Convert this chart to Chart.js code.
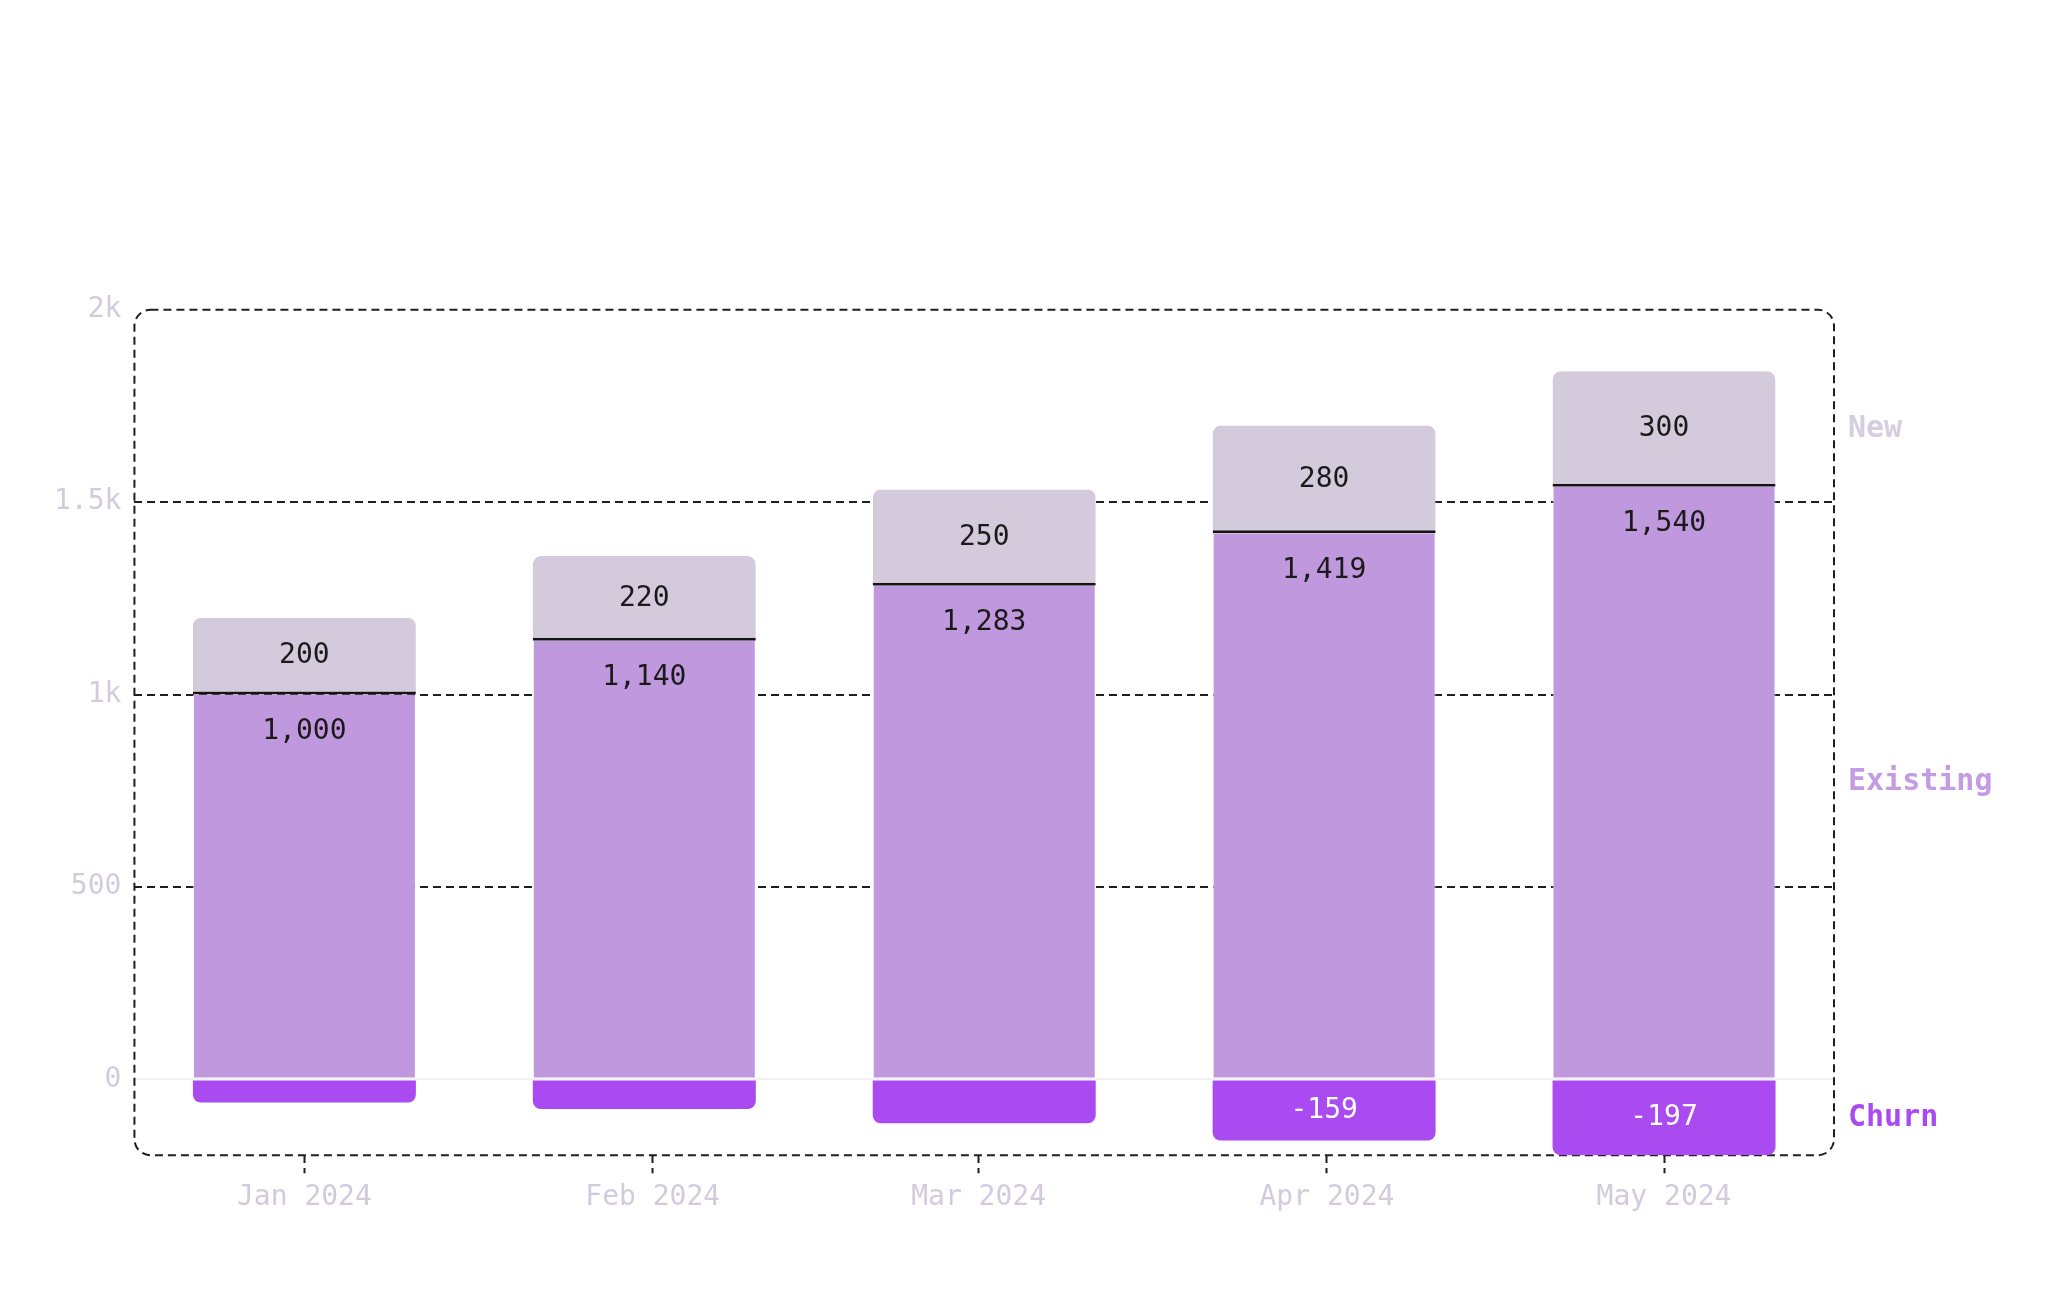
<!DOCTYPE html>
<html>
<head>
<meta charset="utf-8">
<title>Customer Growth</title>
<script src="https://cdn.jsdelivr.net/npm/chart.js@4.4.1/dist/chart.umd.min.js"></script>
<style>
  html, body { margin: 0; padding: 0; background: #ffffff; }
  #wrap { width: 2048px; height: 1302px; }
</style>
</head>
<body>
<div id="wrap"><canvas id="growthChart"></canvas></div>
<script>
// data
const months = ['Jan 2024', 'Feb 2024', 'Mar 2024', 'Apr 2024', 'May 2024'];
const monthStartDays = [0, 31, 60, 91, 121]; // day of year (from Jan 1) for each month tick
const existingCustomers = [1000, 1140, 1283, 1419, 1540];
const newCustomers = [200, 220, 250, 280, 300];
const churnedCustomers = [-60, -77, -114, -159, -197];
const yTicks = [0, 500, 1000, 1500, 2000];

const MONO = '"DejaVu Sans Mono", monospace';
const INK = '#1f1f1f';
const TICK_TEXT = '#d3cadc';
const yMax = yTicks[yTicks.length - 1];

// dashed rounded frame round the plot area
const frameBorder = {
    id: 'frameBorder',
    beforeDatasetsDraw(chart) {
        const { ctx, chartArea: a } = chart;
        ctx.save();
        ctx.strokeStyle = INK;
        ctx.lineWidth = 2;
        ctx.setLineDash([8, 5]);
        ctx.beginPath();
        ctx.roundRect(a.left, a.top, a.right - a.left, a.bottom - a.top, 16);
        ctx.stroke();
        ctx.restore();
    }
};

// numbers inside the bars + series names at the right end
const barLabels = {
    id: 'barLabels',
    afterDatasetsDraw(chart) {
        const ctx = chart.ctx;
        ctx.save();
        ctx.textBaseline = 'middle';
        chart.data.datasets.forEach((ds, i) => {
            const meta = chart.getDatasetMeta(i);
            ctx.font = '28px ' + MONO;
            ctx.textAlign = 'center';
            ctx.fillStyle = ds.valueColor;
            meta.data.forEach((bar, j) => {
                const h = Math.abs(bar.base - bar.y);
                if (h < 50) return;
                let y = (bar.y + bar.base) / 2;
                if (ds.labelAtTop) y = bar.y + 37;
                ctx.fillText(ds.data[j].toLocaleString('en-US'), bar.x, y);
            });

            const last = meta.data[meta.data.length - 1];
            ctx.font = 'bold 30px ' + MONO;
            ctx.textAlign = 'left';
            ctx.fillStyle = ds.seriesColor;
            ctx.fillText(ds.label, chart.chartArea.right + 14, (last.y + last.base) / 2);
        });
        ctx.restore();
    }
};

// half a bar slot of padding on each side, so first/last month ticks sit on the bar centres
const daySpan = monthStartDays[monthStartDays.length - 1] - monthStartDays[0];
const dayPad = daySpan / (monthStartDays.length - 1) / 2;

new Chart(document.getElementById('growthChart'), {
    type: 'bar',
    data: {
        labels: months,
        datasets: [
            {
                label: 'Existing',
                data: existingCustomers,
                backgroundColor: '#c098dd',
                borderColor: 'rgba(255, 255, 255, 0.7)',
                borderWidth: { top: 0, left: 1, right: 1, bottom: 1 },
                borderSkipped: false,
                valueColor: '#1a1a1a',
                seriesColor: '#c59be3',
                labelAtTop: true
            },
            {
                label: 'New',
                data: newCustomers,
                backgroundColor: '#d3cadc',
                borderColor: '#141414',
                borderWidth: { top: 0, left: 0, right: 0, bottom: 3 },
                borderSkipped: false,
                borderRadius: { topLeft: 8, topRight: 8 },
                valueColor: '#1a1a1a',
                seriesColor: '#d6cde0'
            },
            {
                label: 'Churn',
                data: churnedCustomers,
                backgroundColor: '#aa4bf2',
                borderWidth: 0,
                borderRadius: { bottomLeft: 8, bottomRight: 8 },
                valueColor: '#ffffff',
                seriesColor: '#aa4bf2'
            }
        ]
    },
    options: {
        responsive: true,
        maintainAspectRatio: false,
        devicePixelRatio: 1,
        animation: false,
        events: [],
        layout: {
            padding: { top: 40, left: 41, right: 214, bottom: 38 }
        },
        datasets: {
            bar: { barPercentage: 0.656, categoryPercentage: 1 }
        },
        plugins: {
            legend: { display: false },
            tooltip: { enabled: false },
            title: {
                display: true,
                text: 'Customer Growth',
                align: 'start',
                color: '#ffffff',
                font: { family: MONO, size: 66, weight: 'bold' },
                padding: { top: 20, bottom: 0 }
            },
            subtitle: {
                display: true,
                text: 'Broken down by existing, new & churned customers',
                align: 'start',
                color: '#ffffff',
                font: { family: MONO, size: 38 },
                padding: { top: 18, bottom: 107 }
            }
        },
        scales: {
            x: {
                display: false,
                stacked: true
            },
            xTime: {
                type: 'linear',
                axis: 'x',
                position: 'bottom',
                offset: false,
                min: monthStartDays[0] - dayPad,
                max: monthStartDays[monthStartDays.length - 1] + dayPad,
                afterBuildTicks: function(scale) {
                    scale.ticks = monthStartDays.map(d => ({ value: d }));
                },
                ticks: {
                    autoSkip: false,
                    maxRotation: 0,
                    padding: 8,
                    color: TICK_TEXT,
                    font: { family: MONO, size: 28 },
                    callback: function(value) {
                        const k = monthStartDays.indexOf(value);
                        return k >= 0 ? months[k] : '';
                    }
                },
                grid: {
                    offset: false,
                    drawOnChartArea: false,
                    drawTicks: true,
                    tickLength: 18,
                    tickColor: INK,
                    tickWidth: 2,
                    tickBorderDash: [8, 5]
                },
                border: { display: false },
                title: {
                    display: true,
                    text: 'Month',
                    color: '#ffffff',
                    font: { family: MONO, size: 26, weight: 'bold' },
                    padding: { top: 6, bottom: 4 }
                }
            },
            y: {
                stacked: true,
                min: Math.min(...churnedCustomers),
                max: yMax,
                afterBuildTicks: function(scale) {
                    scale.ticks = yTicks.map(v => ({ value: v }));
                },
                ticks: {
                    padding: 13,
                    color: TICK_TEXT,
                    font: { family: MONO, size: 28 },
                    callback: function(value) {
                        return value >= 1000 ? (value / 1000) + 'k' : value;
                    }
                },
                grid: {
                    drawTicks: false,
                    lineWidth: 2,
                    color: function(c) {
                        if (c.tick.value === 0) return '#f2f2f2';
                        if (c.tick.value === yMax) return 'rgba(0,0,0,0)';
                        return INK;
                    }
                },
                border: {
                    display: false,
                    dash: function(c) {
                        return c.tick && c.tick.value === 0 ? [] : [8, 5];
                    }
                }
            }
        }
    },
    plugins: [frameBorder, barLabels]
});
</script>
</body>
</html>
